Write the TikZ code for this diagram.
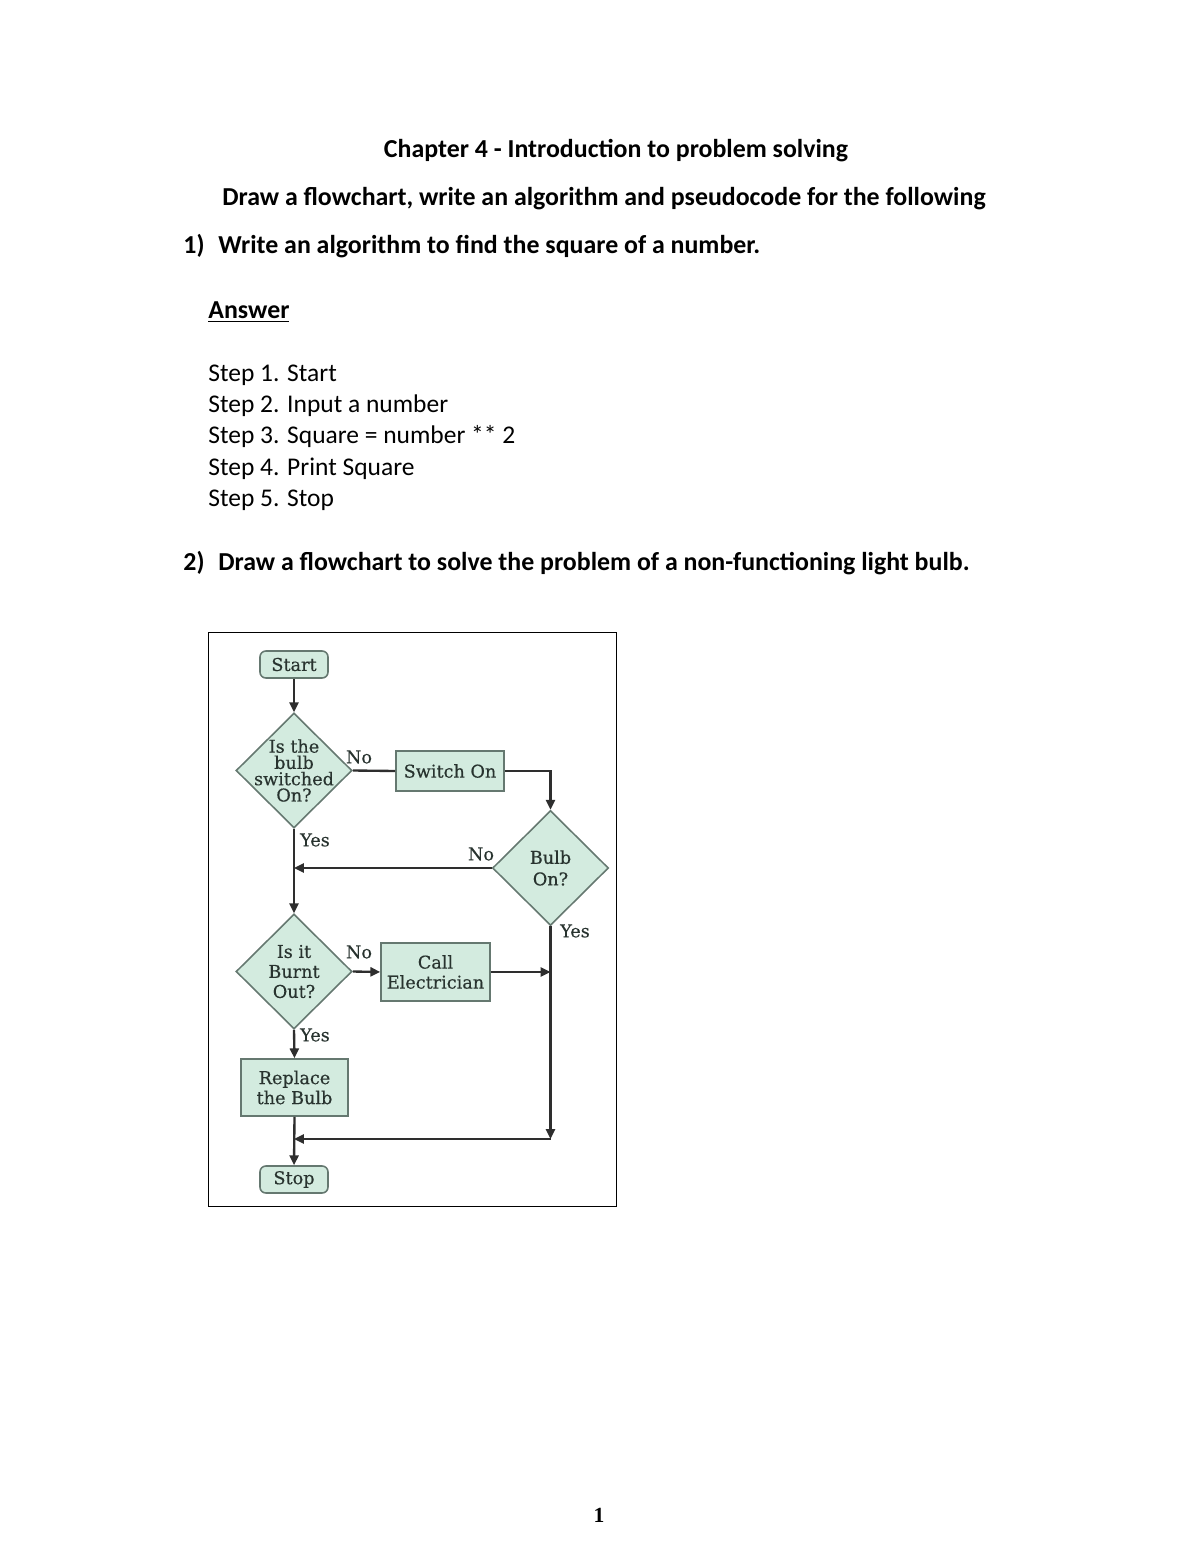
\documentclass[tikz,border=0pt]{standalone}
\usepackage{fontspec}
\setmainfont{Carlito}
\newfontfamily\flowfont[FakeBold=0.4]{DejaVu Serif}
\newfontfamily\pnfont{Liberation Serif}
\usetikzlibrary{shapes.geometric,arrows.meta}
\definecolor{boxfill}{HTML}{D3EBDF}
\definecolor{boxdraw}{HTML}{657870}
\definecolor{flowtext}{HTML}{28332F}
\definecolor{linecol}{HTML}{2E2E2E}
\tikzset{
  txt/.style={inner sep=0pt, anchor=base west, font=\fontsize{13}{15}\selectfont},
  hdr/.style={inner sep=0pt, anchor=base, font=\fontsize{13.2}{15}\selectfont\bfseries},
  hdrl/.style={inner sep=0pt, anchor=base west, font=\fontsize{13.2}{15}\selectfont\bfseries},
  fbase/.style={font=\flowfont\fontsize{9}{10.2}\selectfont, text=flowtext, align=center, fill=boxfill, draw=boxdraw, line width=0.8pt, inner sep=0pt},
  term/.style={fbase, rectangle, rounded corners=3pt, minimum width=68*0.51pt, minimum height=27*0.51pt},
  proc/.style={fbase, rectangle},
  dec/.style={fbase, diamond, aspect=1, minimum width=116*0.51pt, minimum height=115*0.51pt},
  dtxt/.style={font=\flowfont\fontsize{9}{#1}\selectfont, text=flowtext, align=center, inner sep=0pt},
  lbl/.style={font=\flowfont\fontsize{9}{9}\selectfont, text=flowtext, inner sep=0pt},
  conn/.style={draw=linecol, line width=1.2pt},
  arr/.style={conn, -{Triangle[length=5pt,width=4.6pt]}},
}
\begin{document}
\begin{tikzpicture}[x=0.51pt,y=-0.51pt]
\useasboundingbox (0,0) rectangle (1200,1553);
% texts
\node[hdr] (title) at (616,158) {Chapter 4 - Introduction to problem solving};
\node[hdr] (sub) at (604,206) {Draw a flowchart, write an algorithm and pseudocode for the following};
\node[hdrl] (n1) at (183,254) {1)};
\node[hdrl] (q1) at (218,254) {Write an algorithm to find the square of a number.};
\node[hdrl] (ans) at (208,318) {\underline{Answer}};
\node[txt] (s1) at (208,381) {Step 1. Start};
\node[txt] (s2) at (208,412) {Step 2. Input a number};
\node[txt] (s3) at (208,443) {Step 3. Square = number ** 2};
\node[txt] (s4) at (208,475) {Step 4. Print Square};
\node[txt] (s5) at (208,506) {Step 5. Stop};
\node[hdrl] (n2) at (183,570) {2)};
\node[hdrl] (q2) at (218,570) {Draw a flowchart to solve the problem of a non-functioning light bulb.};
\node[inner sep=0pt, anchor=base, font=\pnfont\bfseries\fontsize{11}{13}\selectfont] (pg) at (599,1522) {1};
% frame
\node[draw=black, line width=0.5pt, minimum width=408*0.51pt, minimum height=574*0.51pt, inner sep=0pt] (frame) at (412,919) {};
% flowchart nodes
\node[term] (start) at (294,664.5) {Start};
\node[dec, label={[dtxt=8.3pt]center:Is the\\bulb\\switched\\On?}] (d1) at (294,770.5) {};
\node[proc, minimum width=108*0.51pt, minimum height=40*0.51pt] (sw) at (450,771) {Switch On};
\node[dec, label={[dtxt=11pt]center:Bulb\\On?}] (d2) at (550.5,868) {};
\node[dec, label={[dtxt=10.2pt]center:Is it\\Burnt\\Out?}] (d3) at (294,971.5) {};
\node[proc, minimum width=109*0.51pt, minimum height=58*0.51pt] (call) at (435.5,972) {Call\\Electrician};
\node[proc, minimum width=107*0.51pt, minimum height=57*0.51pt] (rep) at (294.5,1087.5) {Replace\\the Bulb};
\node[term] (stop) at (294,1179.5) {Stop};
\coordinate (j1) at (294,868);
\coordinate (j2) at (550.5,972);
\coordinate (j3) at (550.5,1139);
\coordinate (j4) at (294,1139);
% connectors
\draw[arr] (start.south) -- (d1.north);
\draw[conn] (d1.east) -- (sw.west);
\draw[arr] (sw.east) -| (d2.north);
\draw[arr] (d2.west) -- (j1);
\draw[arr] (d1.south) -- (d3.north);
\draw[arr] (d3.east) -- (call.west);
\draw[arr] (call.east) -- (j2);
\draw[arr] (d2.south) -- (j3);
\draw[arr] (j3) -- (j4);
\draw[arr] (d3.south) -- (rep.north);
\draw[arr] (rep.south) -- (stop.north);
% labels
\node[lbl] (l1) at (359,757) {No};
\node[lbl] (l2) at (315,840) {Yes};
\node[lbl] (l3) at (481,854) {No};
\node[lbl] (l4) at (575,931) {Yes};
\node[lbl] (l5) at (359,952) {No};
\node[lbl] (l6) at (315,1035) {Yes};
\end{tikzpicture}
\end{document}
